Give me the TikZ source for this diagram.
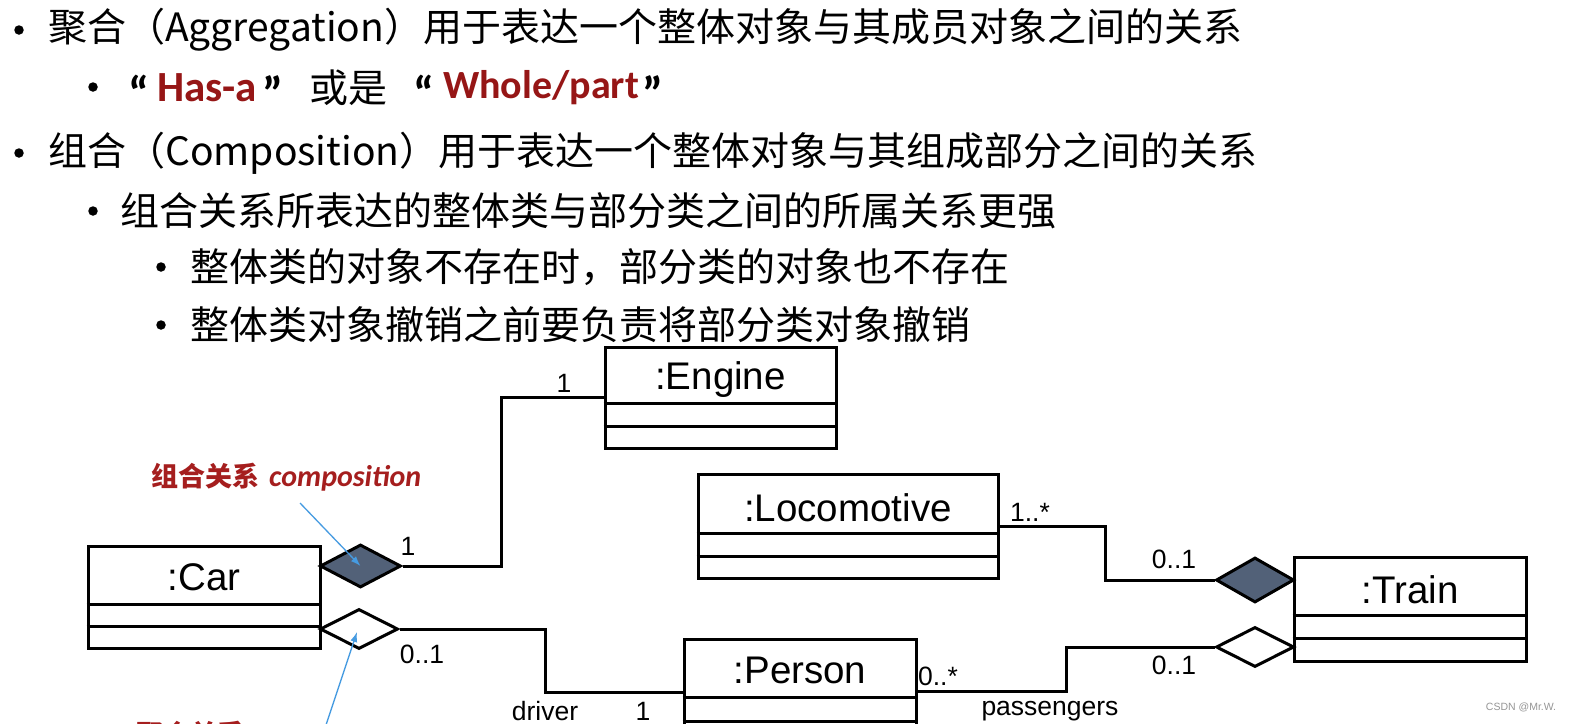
\documentclass[tikz,border=0pt]{standalone}
\usepackage{fontspec}
\setmainfont{Liberation Sans}
\newfontfamily\cjk{Noto Sans CJK SC}
\newfontfamily\calib{Carlito}
\usetikzlibrary{shapes.geometric,arrows.meta,calc}
\definecolor{hasred}{RGB}{150,22,22}
\definecolor{annred}{RGB}{165,30,30}
\definecolor{diafill}{RGB}{82,97,120}
\definecolor{ptrblue}{RGB}{70,155,225}
\definecolor{wmgray}{RGB}{150,150,150}
\begin{document}
\begin{tikzpicture}[x=1pt,y=-1pt,
  classbox/.style={draw, line width=3pt, rectangle, inner sep=0pt},
  divider/.style={line width=3pt},
  conn/.style={line width=3pt},
  cname/.style={font=\fontsize{38.5}{40}\selectfont, inner sep=0pt},
  mult/.style={font=\fontsize{26.5}{28}\selectfont, inner sep=0pt},
  bul/.style={circle, fill=black, inner sep=0pt, minimum size=9.5pt},
  cn/.style={font=\cjk\fontsize{39}{41}\selectfont, anchor=west, inner sep=0pt},
  comp/.style={diamond, draw, line width=3pt, fill=diafill, inner sep=0pt},
  agg/.style={diamond, draw, line width=3pt, fill=white, inner sep=0pt},
  pointer/.style={draw=ptrblue, line width=1.3pt, -{Latex[length=10pt,width=7pt]}},
  redlab/.style={text=hasred, font=\calib\bfseries\fontsize{40}{42}\selectfont, anchor=west, inner sep=0pt},
  quot/.style={font=\calib\bfseries\fontsize{48}{50}\selectfont, anchor=west, inner sep=0pt},
  ann/.style={text=annred, anchor=west, inner sep=0pt},
]
\useasboundingbox[fill=white] (0,0) rectangle (1576,723);

% ---------- bullet text ----------
\node[bul] (b1) at (19,30) {};
\node[cn] (t1) at (48,30) {聚合（Aggregation）用于表达一个整体对象与其成员对象之间的关系};
\node[bul] (b2) at (93,87) {};
\node[quot] (q1) at (128,93) {“};
\node[redlab, font=\calib\bfseries\fontsize{43}{45}\selectfont] (hasa) at (157,88) {Has-a};
\node[quot] (q2) at (262,93) {”};
\node[cn] (huoshi) at (309,88) {或是};
\node[quot] (q3) at (413,93) {“};
\node[redlab] (whole) at (443,88) {Whole/part};
\node[quot] (q4) at (642,93) {”};
\node[bul] (b3) at (19,153) {};
\node[cn] (t3) at (48,153) {组合（Composition）用于表达一个整体对象与其组成部分之间的关系};
\node[bul] (b4) at (93,211) {};
\node[cn] (t4) at (120,211) {组合关系所表达的整体类与部分类之间的所属关系更强};
\node[bul] (b5) at (161,267) {};
\node[cn] (t5) at (190,267) {整体类的对象不存在时，部分类的对象也不存在};
\node[bul] (b6) at (161,325) {};
\node[cn] (t6) at (190,325) {整体类对象撤销之前要负责将部分类对象撤销};

% ---------- classes ----------
\node[classbox, minimum width=231pt, minimum height=101pt] (Engine) at (720.5,397.5) {};
\node[cname] (Enginen) at (720.5,380) {:Engine};
\draw[divider] (Engine.west |- 0,403) -- (Engine.east |- 0,403);
\draw[divider] (Engine.west |- 0,426) -- (Engine.east |- 0,426);

\node[classbox, minimum width=232pt, minimum height=102pt] (Car) at (204,597) {};
\node[cname] (Carn) at (204,577) {:Car};
\draw[divider] (Car.west |- 0,604) -- (Car.east |- 0,604);
\draw[divider] (Car.west |- 0,626) -- (Car.east |- 0,626);

\node[classbox, minimum width=300pt, minimum height=104pt] (Loco) at (848,526) {};
\node[cname] (Locon) at (848,508) {:Locomotive};
\draw[divider] (Loco.west |- 0,533) -- (Loco.east |- 0,533);
\draw[divider] (Loco.west |- 0,556) -- (Loco.east |- 0,556);

\node[classbox, minimum width=232pt, minimum height=104pt] (Train) at (1410,609) {};
\node[cname] (Trainn) at (1410,590) {:Train};
\draw[divider] (Train.west |- 0,615) -- (Train.east |- 0,615);
\draw[divider] (Train.west |- 0,638) -- (Train.east |- 0,638);

\node[classbox, minimum width=232pt, minimum height=121pt] (Person) at (800,699.5) {};
\node[cname] (Personn) at (800,670) {:Person};
\draw[divider] (Person.west |- 0,697) -- (Person.east |- 0,697);
\draw[divider] (Person.west |- 0,721) -- (Person.east |- 0,721);

% ---------- diamonds ----------
\node[comp, minimum width=81pt, minimum height=43pt] (cd) at (360.5,566) {};
\node[agg, minimum width=78pt, minimum height=40pt] (ad) at (359,629) {};
\node[comp, minimum width=78pt, minimum height=45pt] (td) at (1255,580) {};
\node[agg, minimum width=78pt, minimum height=40pt] (tad) at (1255,647) {};

% ---------- connectors ----------
\coordinate (k1) at (501,0);
\coordinate (k2) at (545,0);
\coordinate (k3) at (1105,0);
\coordinate (k4) at (1066,0);
\coordinate (pL) at (684,692);
\coordinate (pR) at (916,691);
\draw[conn] (cd.east) -- (cd.east -| k1) |- (Engine.west);
\draw[conn] (ad.east) -- (ad.east -| k2) |- (pL);
\draw[conn] (Loco.east) -- (Loco.east -| k3) |- (td.west);
\draw[conn] (pR) -- (pR -| k4) |- (tad.west);

% ---------- multiplicities / roles ----------
\node[mult] (m1) at (564,383) {1};
\node[mult] (m2) at (408,546) {1};
\node[mult] (m3) at (422,654) {0..1};
\node[mult] (m4) at (545,711) {driver};
\node[mult] (m5) at (643,711) {1};
\node[mult] (m6) at (1030,512) {1..*};
\node[mult] (m7) at (1174,559) {0..1};
\node[mult] (m8) at (938,676) {0..*};
\node[mult] (m9) at (1174,665) {0..1};
\node[mult] (m10) at (1050,711) {passengers};

% ---------- annotations ----------
\node[ann] (compann) at (151,477) {{\cjk\bfseries\fontsize{27}{29}\selectfont 组合关系}\hspace{10pt}{\calib\bfseries\itshape\fontsize{30}{32}\selectfont composition}};
\coordinate (p1) at (300,503);
\draw[pointer] (p1) -- (cd.center);
\node[ann] (aggann) at (136,734) {{\cjk\bfseries\fontsize{27}{29}\selectfont 聚合关系}};
\coordinate (p2) at (321,740);
\draw[pointer] (p2) -- ($(ad.center)+(-2,3)$);

\node[text=wmgray, font=\fontsize{10.5}{12}\selectfont, inner sep=0pt] (wm) at (1521,707) {CSDN @Mr.W.};
\end{tikzpicture}
\end{document}
